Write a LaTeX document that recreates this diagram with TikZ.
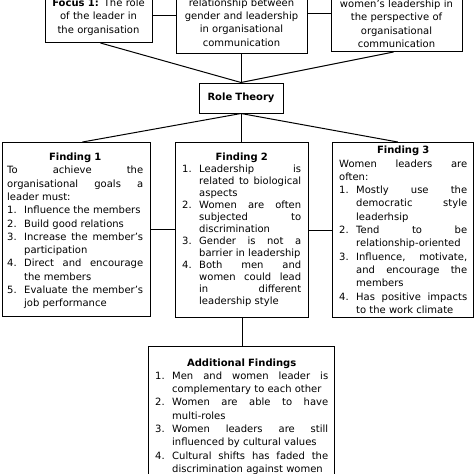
\documentclass[tikz,border=0pt]{standalone}
\usepackage{fontspec}
\setmainfont{DejaVu Sans}
\usepackage{enumitem}
\usetikzlibrary{calc}
\setlist[enumerate]{leftmargin=17pt,labelwidth=17pt,labelsep=0pt,align=left,itemsep=0pt,parsep=0pt,topsep=0pt,partopsep=0pt}
\newcommand\boxfont{\fontsize{10}{13.3}\selectfont\hyphenpenalty=10000 \exhyphenpenalty=10000 \tolerance=10000 \parskip=0pt \spaceskip=.318em plus .6em minus .12em\relax}
\makeatletter
\newcommand\juston{\leftskip=0pt\rightskip=0pt\@rightskip=0pt\parfillskip=0pt plus 1fil\relax}
\makeatother
\begin{document}
\begin{tikzpicture}[x=1pt,y=-1pt,
  frame/.style={draw, line width=1pt, inner sep=0pt, anchor=north west},
  txt/.style={inner sep=0pt, anchor=base west, font=\boxfont, align=justify},
  ctxt/.style={inner sep=0pt, anchor=base, font=\boxfont},
  conn/.style={line width=1pt}]
\fill[white] (0,0) rectangle (474,474);
\useasboundingbox (0,0) rectangle (474,474);

% top boxes
\node[frame, minimum width=107pt, minimum height=54pt] (focA) at (45,-12) {};
\node[frame, minimum width=131pt, minimum height=65pt] (focB) at (176,-12) {};
\node[frame, minimum width=131pt, minimum height=76pt] (focC) at (331,-25) {};
\node[ctxt, text width=105pt] (tA) at (98.5,6.4) {\centering\textbf{Focus 1:} The role\\ of the leader in\\ the organisation\par};
\node[ctxt, text width=129pt] (tB) at (241.5,6.2) {\centering relationship between\\ gender and leadership\\ in organisational\\ communication\par};
\node[ctxt, text width=129pt] (tC) at (396.5,7.5) {\centering women’s leadership in\\ the perspective of\\ organisational\\ communication\par};

% role theory
\node[draw, line width=1pt, minimum width=84pt, minimum height=30pt, inner sep=0pt, font=\boxfont\bfseries] (role) at (241,98) {Role Theory};

% findings boxes
\node[frame, minimum width=148pt, minimum height=174pt] (fA) at (2,142) {};
\node[frame, minimum width=133pt, minimum height=175pt] (fB) at (175,142) {};
\node[frame, minimum width=140.5pt, minimum height=175pt] (fC) at (332,142) {};
\node[frame, minimum width=186pt, minimum height=140pt] (add) at (148,346) {};

\node[txt, text width=136pt] (gA) at (7,160.5) {{\centering\bfseries Finding 1\par}\juston
To achieve the\linebreak organisational goals a\linebreak leader must:
\begin{enumerate}
\item Influence the members
\item Build good relations
\item Increase the member’s participation
\item Direct and encourage\linebreak the members
\item Evaluate the member’s\linebreak job performance
\end{enumerate}};

\node[txt, text width=119pt] (gB) at (182,160.7) {\fontsize{10}{12}\selectfont\spaceskip=.318em plus .6em minus .12em\relax
{\centering\bfseries Finding 2\par}\juston
\begin{enumerate}
\item Leadership is\linebreak related to biological\linebreak aspects
\item Women are often\linebreak subjected to\linebreak discrimination
\item Gender is not a\linebreak barrier in leadership
\item Both men and\linebreak women could lead\linebreak in different\linebreak leadership style
\end{enumerate}};

\node[txt, text width=128pt] (gC) at (339,153.7) {{\centering\bfseries Finding 3\par}\juston
Women leaders are\linebreak often:
\begin{enumerate}
\item Mostly use the\linebreak democratic style\linebreak leaderhsip
\item Tend to be\linebreak relationship-oriented
\item Influence, motivate,\linebreak and encourage the\linebreak members
\item Has positive impacts\linebreak to the work climate
\end{enumerate}};

\node[txt, text width=173pt] (gD) at (155,366) {{\centering\bfseries Additional Findings\par}\juston
\begin{enumerate}
\item Men and women leader is\linebreak complementary to each other
\item Women are able to have\linebreak multi-roles
\item Women leaders are still\linebreak influenced by cultural values
\item Cultural shifts has faded the\linebreak discrimination against women
\end{enumerate}};

% connectors
\draw[conn] (focA.east) -- (focA.east -| focB.west);
\draw[conn] (focC.west -| focB.east) -- (focC.west);
\draw[conn] ([xshift=1.5pt]focA.south) -- (role.north);
\draw[conn] (role.north |- focB.south) -- (role.north);
\draw[conn] ([xshift=-3.5pt]focC.south) -- (role.north);
\draw[conn] (role.south) -- ([xshift=6pt]fA.north);
\draw[conn] (role.south) -- (role.south |- fB.north);
\draw[conn] (role.south) -- ([xshift=-5pt]fC.north);
\draw[conn] (fA.east) -- (fA.east -| fB.west);
\draw[conn] (fC.west -| fB.east) -- (fC.west);
\draw[conn] (fB.south) -- (fB.south |- add.north);
\end{tikzpicture}
\end{document}
